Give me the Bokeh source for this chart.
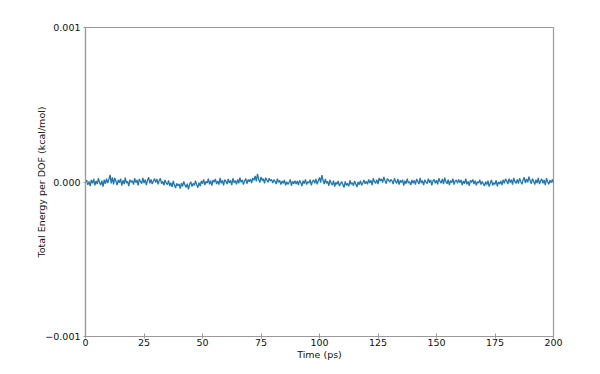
import numpy as np
from bokeh.plotting import figure
from bokeh.models import FixedTicker, Range1d
from bokeh.embed import file_html
from bokeh.resources import INLINE

# Total energy per degree of freedom, in units of 1e-6 kcal/mol, sampled every 0.5 ps
time_step_ps = 0.5
energy_micro = [
    -6, 12, -18, 4, -26, 14, -9, 20, -22, 7, -13, 24, -4, -20, 9, -30, 15, -11, 22, -7,
    17, 46, -9, 30, -15, 26, 6, -20, 13, -4, 22, -24, 11, -13, 28, -7, 4, -26, 15, -2,
    9, -17, 24, -4, 13, -22, 20, 2, -11, 26, -7, 15, -20, 11, 30, -9, 17, -13, 7, 22,
    -4, 20, -15, 9, 24, -11, 4, -22, 13, -7, -17, 11, -26, -4, -33, 7, -20, -39, -9, -24,
    -13, -43, -7, -28, 4, -20, -35, -11, -48, -15, 2, -30, -9, -22, 9, -17, -37, -4, -26, 7,
    -11, 17, -20, 4, -7, 22, -15, 9, -24, 13, -2, 20, -13, 7, -17, 26, -9, 11, -22, 15,
    4, -13, 20, -7, 11, -20, 24, -4, 9, -15, 17, -9, 28, -2, 13, -17, 7, 22, -11, 15,
    2, 20, -7, 26, 11, 39, 4, 52, 17, -4, 33, 9, 22, -9, 28, 13, -2, 24, 7, 17,
    -7, 15, 4, -13, 22, -2, 11, -17, 7, -9, 13, -22, 2, -15, -4, 17, -24, 4, -11, 9,
    -13, 7, -20, 11, -4, -26, 9, -11, 17, -17, 2, -7, 15, -22, 4, 13, -9, 20, -15, 7,
    30, -4, 44, 11, -13, 20, -9, 4, -24, 13, -7, -20, 9, -30, -2, -15, 7, -26, -11, 2,
    -17, -35, 4, -22, -9, -28, 11, -15, -4, -24, 7, -13, -33, 0, -17, 9, -22, -7, 13, -11,
    4, -15, 17, -7, 11, -20, 24, 2, -9, 15, -13, 26, 7, 20, -4, 33, 9, -11, 22, 13,
    -2, 17, 7, -13, 24, 4, -9, 20, -17, 11, -4, 15, -24, 9, -11, 22, -7, 2, -20, 13,
    -9, 11, -17, 20, 4, -13, 26, -7, 9, -20, 15, 0, -11, 22, -4, 13, -22, 7, 17, -9,
    11, -15, 24, 4, -7, 20, -13, 28, 2, -11, 15, -20, 9, -4, 22, -17, 7, 13, -9, 17,
    -4, 13, -20, 7, -11, 22, -15, 4, -24, 11, -2, 17, -13, 9, -22, 2, -7, 15, -17, 4,
    -11, -26, 2, -17, 9, -30, -7, 13, -22, -4, -15, 11, -28, 0, -13, 7, -20, 15, -9, 20,
    7, -13, 22, -4, 15, -17, 26, 2, -9, 17, -11, 24, 4, -15, 13, 30, -7, 20, -2, 35,
    9, -11, 22, 4, -17, 15, -7, 26, -13, 7, 20, -9, 13, -20, 24, 2, -15, 11, -4, 17,
    -7,
]
x_ticks = [0, 25, 50, 75, 100, 125, 150, 175, 200]
y_ticks = [-0.001, 0.0, 0.001]
y_tick_labels = {-0.001: "\u22120.001", 0.0: "0.000", 0.001: "0.001"}

time_ps = np.arange(len(energy_micro)) * time_step_ps
energy = np.array(energy_micro) * 1e-6

FONT = "DejaVu Sans"
AX = "#9a9a9a"
TXT = "#111111"

p = figure(width=600, height=374, output_backend="svg", toolbar_location=None,
           x_range=Range1d(0, 200), y_range=Range1d(-0.001, 0.001),
           min_border_left=85, min_border_right=47, min_border_top=27,
           min_border_bottom=38)
p.background_fill_color = "white"
p.border_fill_color = "white"
p.outline_line_color = AX
p.outline_line_width = 1.2
p.grid.visible = False

p.line(time_ps, energy, line_color="#1f77b4", line_width=1.3)

p.xaxis.ticker = FixedTicker(ticks=x_ticks)
p.yaxis.ticker = FixedTicker(ticks=y_ticks)
p.yaxis.major_label_overrides = y_tick_labels
p.xaxis.axis_label = "Time (ps)"
p.yaxis.axis_label = "Total Energy per DOF (kcal/mol)"

for ax in (p.xaxis[0], p.yaxis[0]):
    ax.axis_line_color = AX
    ax.axis_line_width = 1.2
    ax.major_tick_line_color = AX
    ax.major_tick_in = 3
    ax.major_tick_out = 2
    ax.minor_tick_line_color = None
    ax.major_label_text_font = FONT
    ax.major_label_text_font_size = "9.5px"
    ax.major_label_text_color = TXT
    ax.axis_label_text_font = FONT
    ax.axis_label_text_font_size = "9.5px"
    ax.axis_label_text_font_style = "normal"
    ax.axis_label_text_color = TXT

p.xaxis.major_label_standoff = 0
p.xaxis.axis_label_standoff = 0
p.yaxis.major_label_standoff = 3
p.yaxis.axis_label_standoff = -5

open("out.html", "w").write(file_html(p, INLINE))
